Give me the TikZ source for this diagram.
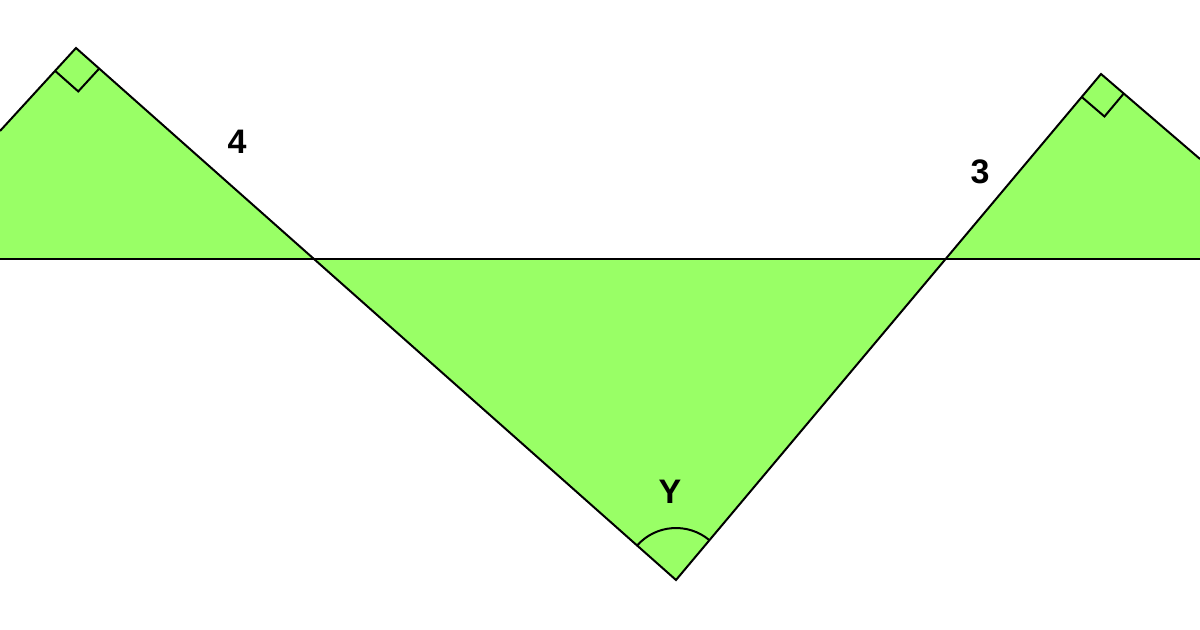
\documentclass[tikz,border=0pt]{standalone}
\usepackage{fontspec}
\setmainfont{Liberation Sans}
\usepackage{xcolor}
\usetikzlibrary{calc,positioning}
\definecolor{leaf}{RGB}{153,255,102}

\begin{document}
\begin{tikzpicture}[x=0.5pt, y=-0.5pt, line width=1pt,
    lbl/.style={font=\fontsize{17}{20}\selectfont\bfseries, inner sep=0pt}]
                        \useasboundingbox (0,0) rectangle (1200,630);

                        \coordinate (a) at (76,48);
                        \coordinate (b) at (1101,74);
                        \coordinate (v) at (676,580);
                        \coordinate (l) at (0,131);
                        \coordinate (r) at (1200,159);
                        \coordinate (p) at (314,259);
                        \coordinate (q) at (945.6,259);
                        \coordinate (h0) at (0,259);
                        \coordinate (h1) at (1200,259);

                        \fill[leaf] (h0) -- (l) -- (a) -- (p) -- cycle;
                        \fill[leaf] (q) -- (b) -- (r) -- (h1) -- cycle;
                        \fill[leaf] (p) -- (q) -- (v) -- cycle;

                        \draw (h0) -- (h1);
                        \draw (l) -- (a) -- (v) -- (b) -- (r);

                        \coordinate (a1) at ($(a)!15.5pt!(v)$);
                        \coordinate (a2) at ($(a)!15.5pt!(l)$);
                        \draw (a1) -- ($(a1)+(a2)-(a)$) -- (a2);

                        \coordinate (b1) at ($(b)!15pt!(v)$);
                        \coordinate (b2) at ($(b)!15pt!(r)$);
                        \draw (b1) -- ($(b1)+(b2)-(b)$) -- (b2);

                        \coordinate (y0) at ($(v)!26pt!(b)$);
                        \draw (y0) arc[start angle=50, end angle=138.4, radius=26pt];

                        \node[lbl] (four) at (237,142) {4};
                        \node[lbl] (three) at (980,172) {3};
                        \node[lbl] (ylbl) at (670,492) {Y};
                    \end{tikzpicture}
\end{document}
